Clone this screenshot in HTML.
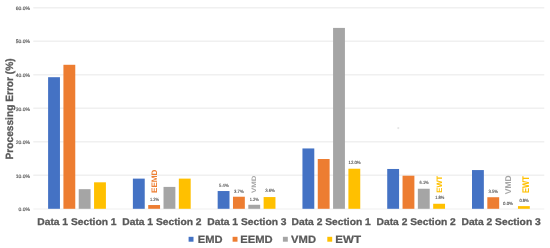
<!DOCTYPE html><html><head><meta charset="utf-8"><style>html,body{margin:0;padding:0;background:#fff;width:550px;height:248px;overflow:hidden}svg{display:block}text{font-family:"Liberation Sans",Arial,sans-serif;text-rendering:geometricPrecision}</style></head><body>
<svg width="550" height="248" viewBox="0 0 550 248">
<line x1="33.3" y1="208.90" x2="544.3" y2="208.90" stroke="#F5F5F5" stroke-width="1.5"/>
<text x="29.95" y="211.10" font-size="5.0" fill="#595959" stroke="#595959" stroke-width="0.18" text-anchor="end">0.0%</text>
<line x1="33.3" y1="175.37" x2="544.3" y2="175.37" stroke="#F0F0F0" stroke-width="1.5"/>
<text x="29.95" y="177.57" font-size="5.0" fill="#595959" stroke="#595959" stroke-width="0.18" text-anchor="end">10.0%</text>
<line x1="33.3" y1="141.84" x2="544.3" y2="141.84" stroke="#F0F0F0" stroke-width="1.5"/>
<text x="29.95" y="144.04" font-size="5.0" fill="#595959" stroke="#595959" stroke-width="0.18" text-anchor="end">20.0%</text>
<line x1="33.3" y1="108.31" x2="544.3" y2="108.31" stroke="#F0F0F0" stroke-width="1.5"/>
<text x="29.95" y="110.51" font-size="5.0" fill="#595959" stroke="#595959" stroke-width="0.18" text-anchor="end">30.0%</text>
<line x1="33.3" y1="74.78" x2="544.3" y2="74.78" stroke="#F0F0F0" stroke-width="1.5"/>
<text x="29.95" y="76.98" font-size="5.0" fill="#595959" stroke="#595959" stroke-width="0.18" text-anchor="end">40.0%</text>
<line x1="33.3" y1="41.25" x2="544.3" y2="41.25" stroke="#F0F0F0" stroke-width="1.5"/>
<text x="29.95" y="43.45" font-size="5.0" fill="#595959" stroke="#595959" stroke-width="0.18" text-anchor="end">50.0%</text>
<line x1="33.3" y1="7.72" x2="544.3" y2="7.72" stroke="#F0F0F0" stroke-width="1.5"/>
<text x="29.95" y="9.92" font-size="5.0" fill="#595959" stroke="#595959" stroke-width="0.18" text-anchor="end">60.0%</text>
<rect x="48.10" y="77.19" width="11.85" height="131.61" fill="#4472C4"/>
<rect x="63.42" y="64.79" width="11.85" height="144.01" fill="#ED7D31"/>
<rect x="78.74" y="189.18" width="11.85" height="19.62" fill="#A5A5A5"/>
<rect x="94.06" y="182.31" width="11.85" height="26.49" fill="#FFC000"/>
<rect x="132.88" y="178.62" width="11.85" height="30.18" fill="#4472C4"/>
<rect x="148.20" y="205.04" width="11.85" height="3.76" fill="#ED7D31"/>
<rect x="163.52" y="186.90" width="11.85" height="21.90" fill="#A5A5A5"/>
<rect x="178.84" y="178.62" width="11.85" height="30.18" fill="#FFC000"/>
<rect x="217.66" y="191.03" width="11.85" height="17.77" fill="#4472C4"/>
<rect x="232.98" y="196.73" width="11.85" height="12.07" fill="#ED7D31"/>
<rect x="248.30" y="204.78" width="11.85" height="4.02" fill="#A5A5A5"/>
<rect x="263.62" y="197.06" width="11.85" height="11.74" fill="#FFC000"/>
<rect x="302.44" y="148.45" width="11.85" height="60.35" fill="#4472C4"/>
<rect x="317.76" y="159.01" width="11.85" height="49.79" fill="#ED7D31"/>
<rect x="333.08" y="27.91" width="11.85" height="180.89" fill="#A5A5A5"/>
<rect x="348.40" y="168.73" width="11.85" height="40.07" fill="#FFC000"/>
<rect x="387.22" y="168.97" width="11.85" height="39.83" fill="#4472C4"/>
<rect x="402.54" y="175.71" width="11.85" height="33.09" fill="#ED7D31"/>
<rect x="417.86" y="188.75" width="11.85" height="20.05" fill="#A5A5A5"/>
<rect x="433.18" y="203.77" width="11.85" height="5.03" fill="#FFC000"/>
<rect x="472.00" y="170.07" width="11.85" height="38.73" fill="#4472C4"/>
<rect x="487.32" y="197.23" width="11.85" height="11.57" fill="#ED7D31"/>
<rect x="517.96" y="206.12" width="11.85" height="2.68" fill="#FFC000"/>
<text x="37.30" y="225.0" font-size="9.7" font-weight="bold" fill="#595959" stroke="#595959" stroke-width="0.3" textLength="79.2" lengthAdjust="spacingAndGlyphs">Data 1 Section 1</text>
<text x="122.30" y="225.0" font-size="9.7" font-weight="bold" fill="#595959" stroke="#595959" stroke-width="0.3" textLength="79.2" lengthAdjust="spacingAndGlyphs">Data 1 Section 2</text>
<text x="207.30" y="225.0" font-size="9.7" font-weight="bold" fill="#595959" stroke="#595959" stroke-width="0.3" textLength="79.2" lengthAdjust="spacingAndGlyphs">Data 1 Section 3</text>
<text x="291.60" y="225.0" font-size="9.7" font-weight="bold" fill="#595959" stroke="#595959" stroke-width="0.3" textLength="79.2" lengthAdjust="spacingAndGlyphs">Data 2 Section 1</text>
<text x="376.60" y="225.0" font-size="9.7" font-weight="bold" fill="#595959" stroke="#595959" stroke-width="0.3" textLength="79.2" lengthAdjust="spacingAndGlyphs">Data 2 Section 2</text>
<text x="461.50" y="225.0" font-size="9.7" font-weight="bold" fill="#595959" stroke="#595959" stroke-width="0.3" textLength="79.2" lengthAdjust="spacingAndGlyphs">Data 2 Section 3</text>
<text transform="translate(12.7,108.9) rotate(-90)" font-size="10.5" font-weight="bold" fill="#595959" stroke="#595959" stroke-width="0.3" text-anchor="middle" textLength="101" lengthAdjust="spacingAndGlyphs">Processing Error (%)</text>
<text x="150.00" y="200.55" font-size="4.5" fill="#484848" stroke="#484848" stroke-width="0.1" textLength="9.0" lengthAdjust="spacingAndGlyphs">1.2%</text>
<text x="219.10" y="186.95" font-size="4.5" fill="#484848" stroke="#484848" stroke-width="0.1" textLength="9.6" lengthAdjust="spacingAndGlyphs">5.4%</text>
<text x="234.10" y="192.55" font-size="4.5" fill="#484848" stroke="#484848" stroke-width="0.1" textLength="9.6" lengthAdjust="spacingAndGlyphs">3.7%</text>
<text x="249.80" y="200.75" font-size="4.5" fill="#484848" stroke="#484848" stroke-width="0.1" textLength="9.0" lengthAdjust="spacingAndGlyphs">1.2%</text>
<text x="265.20" y="192.35" font-size="4.5" fill="#484848" stroke="#484848" stroke-width="0.1" textLength="9.6" lengthAdjust="spacingAndGlyphs">3.6%</text>
<text x="348.50" y="164.05" font-size="4.5" fill="#484848" stroke="#484848" stroke-width="0.1" textLength="12.2" lengthAdjust="spacingAndGlyphs">12.0%</text>
<text x="419.60" y="183.65" font-size="4.5" fill="#484848" stroke="#484848" stroke-width="0.1" textLength="9.0" lengthAdjust="spacingAndGlyphs">6.1%</text>
<text x="435.20" y="198.95" font-size="4.5" fill="#484848" stroke="#484848" stroke-width="0.1" textLength="9.0" lengthAdjust="spacingAndGlyphs">1.8%</text>
<text x="488.60" y="192.75" font-size="4.5" fill="#484848" stroke="#484848" stroke-width="0.1" textLength="9.4" lengthAdjust="spacingAndGlyphs">3.5%</text>
<text x="503.00" y="205.05" font-size="4.5" fill="#484848" stroke="#484848" stroke-width="0.1" textLength="10.0" lengthAdjust="spacingAndGlyphs">0.0%</text>
<text x="519.40" y="201.55" font-size="4.5" fill="#484848" stroke="#484848" stroke-width="0.1" textLength="9.4" lengthAdjust="spacingAndGlyphs">0.9%</text>
<text transform="translate(156.90,193.00) rotate(-90)" font-size="7.96" font-weight="bold" fill="#ED7D31" textLength="23.40" lengthAdjust="spacingAndGlyphs">EEMD</text>
<text transform="translate(256.00,193.00) rotate(-90)" font-size="6.42" font-weight="bold" fill="#A5A5A5" textLength="17.30" lengthAdjust="spacingAndGlyphs">VMD</text>
<text transform="translate(442.40,192.70) rotate(-90)" font-size="7.82" font-weight="bold" fill="#FFC000" textLength="17.00" lengthAdjust="spacingAndGlyphs">EWT</text>
<text transform="translate(511.40,194.20) rotate(-90)" font-size="8.38" font-weight="bold" fill="#A5A5A5" textLength="19.00" lengthAdjust="spacingAndGlyphs">VMD</text>
<text transform="translate(529.20,193.10) rotate(-90)" font-size="9.64" font-weight="bold" fill="#FFC000" textLength="17.00" lengthAdjust="spacingAndGlyphs">EWT</text>
<rect x="188.6" y="236.8" width="4.9" height="4.9" fill="#4472C4"/>
<text x="197.7" y="242.5" font-size="10.6" font-weight="bold" fill="#595959" stroke="#595959" stroke-width="0.22" textLength="24.8" lengthAdjust="spacingAndGlyphs">EMD</text>
<rect x="232.6" y="236.8" width="4.9" height="4.9" fill="#ED7D31"/>
<text x="240.3" y="242.5" font-size="10.6" font-weight="bold" fill="#595959" stroke="#595959" stroke-width="0.22" textLength="32.4" lengthAdjust="spacingAndGlyphs">EEMD</text>
<rect x="282.9" y="236.8" width="4.9" height="4.9" fill="#A5A5A5"/>
<text x="291.1" y="242.5" font-size="10.6" font-weight="bold" fill="#595959" stroke="#595959" stroke-width="0.22" textLength="24.9" lengthAdjust="spacingAndGlyphs">VMD</text>
<rect x="327.3" y="236.8" width="4.9" height="4.9" fill="#FFC000"/>
<text x="335.3" y="242.5" font-size="10.6" font-weight="bold" fill="#595959" stroke="#595959" stroke-width="0.22" textLength="25.7" lengthAdjust="spacingAndGlyphs">EWT</text>
<circle cx="398.3" cy="128.1" r="1.1" fill="#E6E6E6"/>
</svg></body></html>
